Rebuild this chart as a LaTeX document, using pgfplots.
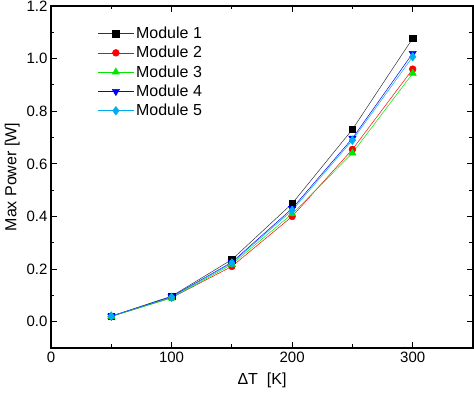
\documentclass[border=0pt]{standalone}
\usepackage{fontspec}
\setmainfont{Liberation Sans}
\usepackage{pgfplots}
\pgfplotsset{compat=1.18}
\definecolor{mgreen}{RGB}{0,230,0}
\begin{document}
\begin{tikzpicture}
\begin{axis}[
  scale only axis,
  width=422pt, height=342pt,
  xmin=0, xmax=350, ymin=-0.1, ymax=1.2,
  xtick={0,100,200,300},
  ytick={0,0.2,0.4,0.6,0.8,1.0,1.2},
  minor x tick num=1, minor y tick num=1,
  tick align=inside,
  major tick length=6pt, minor tick length=3.5pt,
  tick style={black, line width=0.9pt},
  axis line style={line width=1.3pt},
  yticklabel style={/pgf/number format/fixed, /pgf/number format/precision=1, /pgf/number format/fixed zerofill},
  /pgf/number format/assume math mode=true,
  ticklabel style={font=\fontsize{15}{15}\selectfont},
  xlabel={ΔT\ \ [K]},
  ylabel={Max Power [W]},
  label style={font=\fontsize{16}{16}\selectfont},
  xlabel style={yshift=-4pt},
  ylabel style={yshift=0pt},
  legend style={draw=none, fill=none, at={(0.11,0.945)}, anchor=north west,
    font=\fontsize{16}{16}\selectfont, row sep=2.2pt, inner sep=0pt,
    /tikz/every even column/.style={column sep=4pt}},
  legend cell align=left,
  legend image code/.code={\draw[mark repeat=2, mark phase=2, #1] plot coordinates {(0pt,0pt)(18pt,0pt)(36pt,0pt)};},
]
\addplot[black!80, line width=0.5pt, mark=square*, mark size=3.2pt, mark options={solid, fill=black, draw=black}] coordinates {
(50,0.021) (100,0.097) (150,0.236) (200,0.449) (250,0.731) (300,1.077)};
\addlegendentry{Module 1}
\addplot[red, line width=0.5pt, mark=*, mark size=3.4pt, mark options={solid, fill=red}] coordinates {
(50,0.020) (100,0.091) (150,0.210) (200,0.400) (250,0.655) (300,0.960)};
\addlegendentry{Module 2}
\addplot[mgreen, line width=0.5pt, mark=triangle*, mark size=4.2pt, mark options={solid, fill=mgreen}] coordinates {
(50,0.020) (100,0.090) (150,0.218) (200,0.410) (250,0.641) (300,0.944)};
\addlegendentry{Module 3}
\addplot[blue, line width=0.5pt, mark=triangle*, mark size=4.2pt, mark options={solid, fill=blue, rotate=180}] coordinates {
(50,0.021) (100,0.095) (150,0.226) (200,0.430) (250,0.697) (300,1.020)};
\addlegendentry{Module 4}
\addplot[cyan, line width=0.5pt, mark=diamond*, mark size=4.3pt, mark options={solid, fill=cyan}] coordinates {
(50,0.021) (100,0.093) (150,0.223) (200,0.423) (250,0.690) (300,1.007)};
\addlegendentry{Module 5}
\end{axis}
\pgfresetboundingbox
\path[use as bounding box] (-51pt,-51pt) rectangle (423pt,348pt);
\end{tikzpicture}
\end{document}
